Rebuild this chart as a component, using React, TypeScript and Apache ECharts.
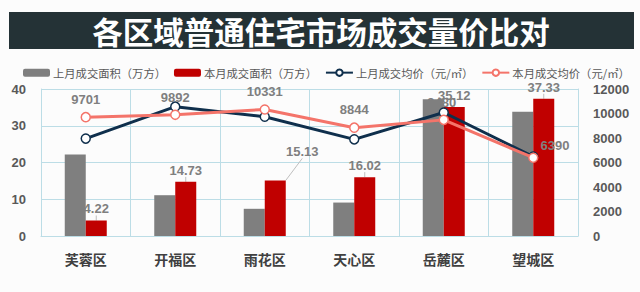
import React, { useEffect, useRef } from "react";
import * as echarts from "echarts";

const districts = ["芙蓉区", "开福区", "雨花区", "天心区", "岳麓区", "望城区"];
const lastMonthArea = [22.2, 11.1, 7.4, 9.1, 37.2, 33.8];
const thisMonthArea = [4.22, 14.73, 15.13, 16.02, 35.12, 37.33];
const lastMonthPrice = [7950, 10560, 9740, 7890, 10080, 6480];
const thisMonthPrice = [9701, 9892, 10331, 8844, 9480, 6390];
const seriesNames = [
  "上月成交面积（万方）",
  "本月成交面积（万方）",
  "上月成交均价（元/㎡）",
  "本月成交均价（元/㎡）",
];
const titleText = "各区域普通住宅市场成交量价比对";

const NUM_FONT = '"Liberation Sans", Arial, sans-serif';
const CJK_FONT = '"Noto Sans CJK SC", "Noto Sans", sans-serif';

export default function App() {
  const ref = useRef<HTMLDivElement>(null);
  useEffect(() => {
    document.body.style.margin = "0";
    const chart = echarts.init(ref.current!, null, { renderer: "svg" });
    const gridColor = "#bcdde6";
    const numLabel = {
      show: true,
      color: "#7f7f7f",
      fontFamily: NUM_FONT,
      fontWeight: "bold",
      fontSize: 13,
    };
    const axisNum = {
      margin: 15,
      color: "#595959",
      fontSize: 13,
      fontWeight: "bold",
      fontFamily: NUM_FONT,
      formatter: (v: number) => String(v),
    };
    chart.setOption({
      animation: false,
      backgroundColor: "#fcfcfc",
      graphic: [
        {
          type: "rect",
          shape: { x: 9, y: 12, width: 625, height: 37 },
          style: { fill: "#243236" },
          silent: true,
        },
        {
          type: "text",
          x: 321,
          y: 31,
          style: {
            text: titleText,
            fill: "#ffffff",
            font: `bold 30.5px ${CJK_FONT}`,
            align: "center",
            verticalAlign: "middle",
          },
          silent: true,
        },
      ],
      legend: {
        top: 62,
        left: 18,
        width: 620,
        itemWidth: 27,
        itemHeight: 8,
        itemGap: 8,
        textStyle: { color: "#595959", fontSize: 11.3, fontFamily: CJK_FONT, padding: [0, 0, 0, -2] },
        data: seriesNames,
      },
      grid: { left: 41, right: 62, top: 89, bottom: 56 },
      xAxis: {
        type: "category",
        data: districts,
        axisLine: { show: true, lineStyle: { color: gridColor } },
        axisTick: { show: false },
        splitLine: { show: true, lineStyle: { color: gridColor } },
        axisLabel: {
          margin: 16,
          color: "#404040",
          fontSize: 14,
          fontWeight: "bold",
          fontFamily: CJK_FONT,
        },
      },
      yAxis: [
        {
          type: "value",
          min: 0,
          max: 40,
          interval: 10,
          axisLine: { show: true, lineStyle: { color: gridColor } },
          axisTick: { show: false },
          splitLine: { show: true, lineStyle: { color: gridColor } },
          axisLabel: axisNum,
        },
        {
          type: "value",
          min: 0,
          max: 12000,
          interval: 2000,
          axisLine: { show: true, lineStyle: { color: gridColor } },
          axisTick: { show: false },
          splitLine: { show: false },
          axisLabel: axisNum,
        },
      ],
      series: [
        {
          name: seriesNames[0],
          type: "bar",
          data: lastMonthArea,
          barWidth: 21,
          barGap: "0%",
          itemStyle: { color: "#7f7f7f" },
        },
        {
          name: seriesNames[1],
          type: "bar",
          data: thisMonthArea.map((v, i) => {
            if (i === 4) return { value: v, label: { offset: [20, 8] } };
            return v;
          }),
          barWidth: 21,
          barGap: "0%",
          itemStyle: { color: "#c00000" },
          label: { ...numLabel, position: "top", distance: 5 },
          labelLayout: (p: any) => (p.dataIndex === 2 ? { dx: 27, dy: -17 } : {}),
          labelLine: { show: true, lineStyle: { color: "#bfbfbf", width: 1 } },
        },
        {
          name: seriesNames[2],
          type: "line",
          yAxisIndex: 1,
          data: lastMonthPrice,
          symbol: "circle",
          symbolSize: 9,
          lineStyle: { color: "#0f2f4c", width: 3 },
          itemStyle: { color: "#ffffff", borderColor: "#0f2f4c", borderWidth: 1.5 },
          z: 3,
        },
        {
          name: seriesNames[3],
          type: "line",
          yAxisIndex: 1,
          data: thisMonthPrice.map((v, i) => {
            if (i === 5) return { value: v, label: { position: "right", distance: 2, offset: [0, -12] } };
            if (i === 4) return { value: v, label: { offset: [-2, 0] } };
            return v;
          }),
          symbol: "circle",
          symbolSize: 9,
          lineStyle: { color: "#f4746a", width: 3 },
          itemStyle: { color: "#ffffff", borderColor: "#f4746a", borderWidth: 1.5 },
          label: { ...numLabel, position: "top", distance: 6 },
          z: 4,
        },
      ],
    });
    return () => chart.dispose();
  }, []);
  return <div ref={ref} style={{ width: 640, height: 292 }} />;
}
